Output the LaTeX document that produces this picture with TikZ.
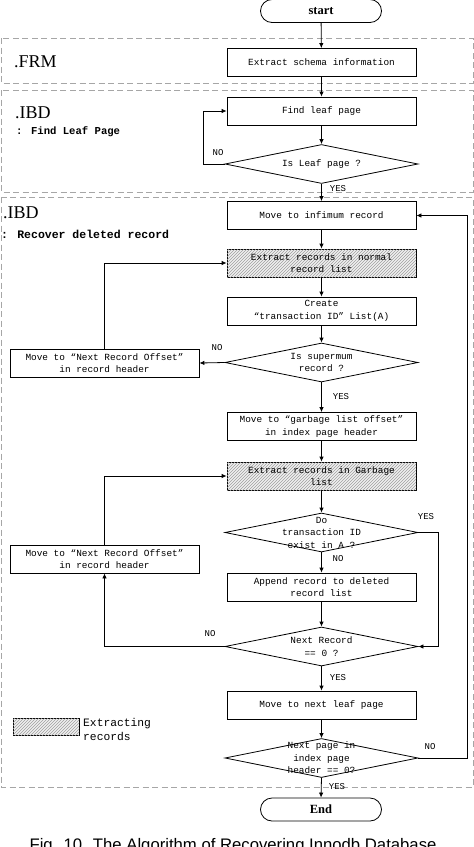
\documentclass[tikz,border=0pt]{standalone}
\usepackage{fontspec}
\setmainfont{Liberation Serif}
\newfontfamily\monof{Liberation Mono}
\newfontfamily\sansf{Liberation Sans}
\usetikzlibrary{shapes.geometric,arrows.meta,patterns}
\tikzset{
  boxtxt/.style={font=\monof\fontsize{9.4}{12.5}\selectfont, align=center},
  procbox/.style={draw, line width=0.8pt, minimum width=189pt, minimum height=28pt, inner sep=0pt, boxtxt},
  hatchbox/.style={procbox, fill=gray!12, postaction={pattern=north east lines, pattern color=gray!75}},
  decision/.style={draw, line width=0.8pt, diamond, minimum width=193pt, minimum height=39pt, inner sep=0pt},
  dlabel/.style={boxtxt, inner sep=0pt},
  term/.style={draw, line width=0.8pt, rounded corners=11.5pt, minimum width=121pt, minimum height=23pt, inner sep=0pt, font=\bfseries\fontsize{12.5}{14}\selectfont},
  arr/.style={line width=0.8pt, -{Latex[length=5pt,width=4.5pt]}},
  yn/.style={font=\monof\fontsize{9}{11}\selectfont, inner sep=0pt},
  region/.style={draw=gray!70, line width=0.9pt, dash pattern=on 6pt off 3.5pt},
  biglab/.style={font=\fontsize{18}{20}\selectfont, inner sep=0pt, anchor=base west},
  sublab/.style={font=\monof\bfseries\fontsize{10.6}{13}\selectfont, inner sep=0pt, anchor=base west},
}
\begin{document}
\begin{tikzpicture}[x=1pt,y=-1pt]
\useasboundingbox (0,0) rectangle (474,847);
\clip (0,0) rectangle (474,847);

% regions
\draw[region] (1,38) rectangle (473,83);
\draw[region] (1,90) rectangle (473,192);
\draw[region] (1,197) rectangle (473,787);

\node[biglab] (frm) at (14,67) {.FRM};
\node[biglab] (ibd1) at (15,118) {.IBD};
\node[sublab] (fl) at (16,134) {: Find Leaf Page};
\node[biglab] (ibd2) at (3,218) {.IBD};
\node[sublab, font=\monof\bfseries\fontsize{11.5}{13}\selectfont] (rd) at (1,238) {: Recover deleted record};

% main column
\node[term] (start) at (321,11) {start};
\node[procbox] (b1) at (321.5,62.5) {Extract schema information};
\node[procbox] (b2) at (321.5,111) {Find leaf page};
\node[decision] (d1) at (321.5,164) {};
\node[dlabel] at (d1.center) {Is Leaf page ?};
\node[procbox] (b3) at (321.5,215.5) {Move to infimum record};
\node[hatchbox] (b4) at (321.5,263) {Extract records in normal\\record list};
\node[procbox] (b5) at (321.5,311) {Create\\“transaction ID” List(A)};
\node[decision] (d2) at (321.5,362.5) {};
\node[dlabel] at (d2.center) {Is supermum\\record ?};
\node[procbox] (l1) at (104.5,363) {Move to “Next Record Offset”\\in record header};
\node[procbox] (b6) at (321.5,426.5) {Move to “garbage list offset”\\in index page header};
\node[hatchbox] (b7) at (321.5,476) {Extract records in Garbage\\list};
\node[decision] (d3) at (321.5,532.5) {};
\node[dlabel] at (d3.center) {Do\\transaction ID\\exist in A ?};
\node[procbox] (b8) at (321.5,587) {Append record to deleted\\record list};
\node[decision] (d4) at (321.5,646.5) {};
\node[dlabel] at (d4.center) {Next Record\\== 0 ?};
\node[procbox] (l2) at (104.5,559) {Move to “Next Record Offset”\\in record header};
\node[procbox] (b9) at (321.5,705) {Move to next leaf page};
\node[decision] (d5) at (321.5,758) {};
\node[dlabel] at (d5.center) {Next page in\\index page\\header == 0?};
\node[term] (end) at (321,809.5) {End};

\coordinate (nc) at (203,164);
\coordinate (yc) at (438,532.5);
\coordinate (rc) at (467,758);

% connectors
\draw[arr] (start) -- (b1);
\draw[arr] (b1) -- (b2);
\draw[arr] (b2) -- (d1);
\draw[arr] (d1.south) -- (b3.north);
\draw[arr] (d1.west) -- (nc) |- (b2.west);
\draw[arr] (b3) -- (b4);
\draw[arr] (b4) -- (b5);
\draw[arr] (b5) -- (d2.north);
\draw[arr] (d2.west) -- (l1.east);
\draw[arr] (l1.north) |- (b4.west);
\draw[arr] (d2.south) -- (b6.north);
\draw[arr] (b6) -- (b7);
\draw[arr] (b7) -- (d3.north);
\draw[arr] (d3.south) -- (b8.north);
\draw[arr] (d3.east) -- (yc) |- (d4.east);
\draw[arr] (b8) -- (d4.north);
\draw[arr] (d4.west) -| (l2.south);
\draw[arr] (l2.north) |- (b7.west);
\draw[arr] (d4.south) -- (b9.north);
\draw[arr] (b9) -- (d5.north);
\draw[arr] (d5.east) -- (rc) |- (b3.east);
\draw[arr] (d5.south) -- (end.north);

% yes/no labels
\node[yn] at (218,153) {NO};
\node[yn] at (338,189) {YES};
\node[yn] at (217,348) {NO};
\node[yn] at (341,397) {YES};
\node[yn] at (426,517) {YES};
\node[yn] at (338,559) {NO};
\node[yn] at (210,634) {NO};
\node[yn] at (338,678) {YES};
\node[yn] at (430,747) {NO};
\node[yn] at (337,787) {YES};

% legend
\node[draw, line width=0.8pt, minimum width=66pt, minimum height=17pt, inner sep=0pt, fill=gray!12, postaction={pattern=north east lines, pattern color=gray!75}] (leg) at (46,726.5) {};
\node[anchor=west, font=\monof\fontsize{11.3}{14}\selectfont, align=left, inner sep=0pt] (legt) at (83,729) {Extracting\\records};

% caption (cut off at the lower edge, as in the reference)
\node[anchor=base, font=\sansf\fontsize{16.7}{18}\selectfont, inner sep=0pt] (cap) at (233,850.5) {Fig. 10. The Algorithm of Recovering Innodb Database};
\end{tikzpicture}
\end{document}
